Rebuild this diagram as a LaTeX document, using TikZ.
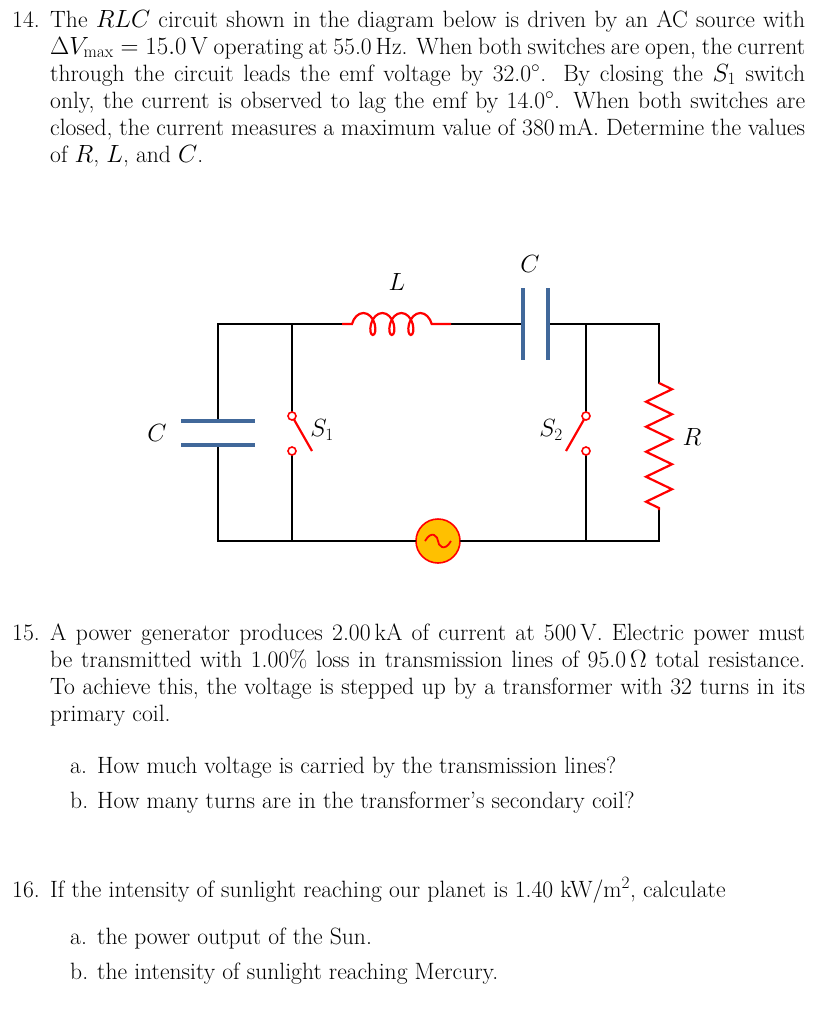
\documentclass[tikz,border=0pt]{standalone}
\usetikzlibrary{decorations.pathmorphing,calc}
\definecolor{capblue}{HTML}{41689A}
\definecolor{srcfill}{HTML}{FFC000}
\tikzset{
  para/.style={anchor=north west,inner sep=0pt,text width=793pt,align=justify,font=\fontsize{23.6}{27}\selectfont},
  wire/.style={line width=2.4pt,black},
  capplate/.style={line width=4.5pt,capblue},
  rcomp/.style={line width=2.2pt,red},
  lbl/.style={font=\fontsize{23}{26}\selectfont\itshape,inner sep=0pt}
}
\begin{document}
\begin{tikzpicture}[x=1pt,y=-1pt]
\useasboundingbox (0,0) rectangle (827,1024);
\fill[white] (0,0) rectangle (827,1024);
% texts
\node[para] (p14) at (12,10) {\hangindent=38pt\hangafter=1\noindent\makebox[38pt][l]{14.}The $RLC$ circuit shown in the diagram below is driven by an AC source with\linebreak $\Delta V_{\mathrm{max}}=15.0\,\mathrm{V}$ operating at 55.0\,Hz. When both switches are open, the current\linebreak through the circuit leads the emf voltage by 32.0$^\circ$. By closing the $S_1$ switch\linebreak only, the current is observed to lag the emf by 14.0$^\circ$. When both switches are\linebreak closed, the current measures a maximum value of 380\,mA. Determine the values\linebreak of $R$, $L$, and $C$.\par};
\node[para] (p15) at (12,624) {\hangindent=38pt\hangafter=1\noindent\makebox[38pt][l]{15.}A power generator produces 2.00\,kA of current at 500\,V. Electric power must\linebreak be transmitted with 1.00\% loss in transmission lines of 95.0\,$\Omega$ total resistance.\linebreak To achieve this, the voltage is stepped up by a transformer with 32 turns in its\linebreak primary coil.\par};
\node[para,text width=740pt] (p15a) at (70,757) {\makebox[27pt][l]{a.}How much voltage is carried by the transmission lines?};
\node[para,text width=740pt] (p15b) at (70,792) {\makebox[27pt][l]{b.}How many turns are in the transformer's secondary coil?};
\node[para] (p16) at (12,877) {\makebox[38pt][l]{16.}If the intensity of sunlight reaching our planet is 1.40 kW/m$^2$, calculate};
\node[para,text width=740pt] (p16a) at (70,928) {\makebox[27pt][l]{a.}the power output of the Sun.};
\node[para,text width=740pt] (p16b) at (70,963) {\makebox[27pt][l]{b.}the intensity of sunlight reaching Mercury.};
% circuit coordinates
\coordinate (tl) at (218,324);
\coordinate (bl) at (218,541);
\coordinate (ts1) at (292,324);
\coordinate (bs1) at (292,541);
\coordinate (ts2) at (586,324);
\coordinate (bs2) at (586,541);
\coordinate (tr) at (659,324);
\coordinate (br) at (659,541);
\coordinate (lA) at (342,324);
\coordinate (lB) at (451,324);
\coordinate (cA) at (523,324);
\coordinate (cB) at (548,324);
\coordinate (c2a) at (218,421);
\coordinate (c2b) at (218,445);
\coordinate (s1a) at (292,416);
\coordinate (s1b) at (292,451);
\coordinate (s2a) at (586,416);
\coordinate (s2b) at (586,451);
\coordinate (rA) at (659,383);
\coordinate (rB) at (659,510);
\node[circle,draw=red,fill=srcfill,line width=1.6pt,minimum size=44pt,inner sep=0pt] (src) at (438,541) {};
% wires
\draw[wire,line cap=round] (lA) -- (tl) -- (c2a);
\draw[wire,line cap=round] (c2b) -- (bl) -- (src.west);
\draw[wire,line cap=round] (src.east) -- (br) -- (rB);
\draw[wire,line cap=round] (rA) -- (tr) -- (cB);
\draw[wire] (cA) -- (lB);
\draw[wire] (ts1) -- (s1a);
\draw[wire] (s1b) -- (bs1);
\draw[wire] (ts2) -- (s2a);
\draw[wire] (s2b) -- (bs2);
% inductor
\draw[rcomp,decorate,decoration={coil,aspect=0.6,segment length=19pt,amplitude=11pt,pre length=10pt,post length=10pt}] (lA) -- (lB);
% capacitors
\draw[capplate] (523,288) -- (523,360);
\draw[capplate] (548,288) -- (548,360);
\draw[capplate] (181,421) -- (255,421);
\draw[capplate] (181,445) -- (255,445);
% resistor
\draw[rcomp,decorate,decoration={zigzag,segment length=25pt,amplitude=13pt}] (rA) -- (rB);
% switches
\draw[rcomp] (s1a) -- (312,451);
\draw[rcomp] (s2a) -- (566,451);
\draw[red,line width=1.6pt,fill=white] (s1a) circle (4pt) (s1b) circle (4pt) (s2a) circle (4pt) (s2b) circle (4pt);
% source tilde
\draw[red,line width=1.8pt] ($(src.center)+(-13,0)$) .. controls ($(src.center)+(-6,-12)$) and ($(src.center)+(0,-4)$) .. (src.center) .. controls ($(src.center)+(0,4)$) and ($(src.center)+(6,12)$) .. ($(src.center)+(13,0)$);
% labels
\node[lbl] (lL) at (397,282) {$L$};
\node[lbl] (lC1) at (530,264) {$C$};
\node[lbl] (lC2) at (157,433) {$C$};
\node[lbl] (lS1) at (322,430) {$S_1$};
\node[lbl] (lS2) at (551,430) {$S_2$};
\node[lbl] (lR) at (692,437) {$R$};
\end{tikzpicture}
\end{document}
